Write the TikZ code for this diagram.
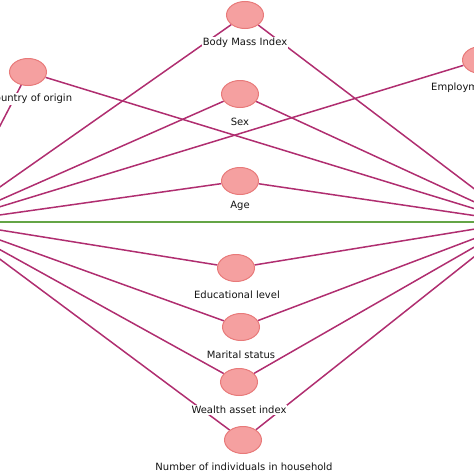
\documentclass[tikz,border=0pt]{standalone}
\usepackage{fontspec}
\setmainfont{DejaVu Sans}
\usetikzlibrary{shapes.geometric,backgrounds}
\definecolor{linkc}{RGB}{176,46,112}
\definecolor{causal}{RGB}{100,165,70}
\definecolor{ellfill}{RGB}{245,160,160}
\definecolor{elldraw}{RGB}{232,122,122}
\definecolor{txt}{RGB}{20,20,20}
\tikzset{
  var/.style={ellipse, fill=ellfill, draw=elldraw, line width=1pt, minimum width=37pt, minimum height=27pt, inner sep=0pt},
  lab/.style={fill=white, text=txt, inner sep=1pt, font=\fontsize{10}{12}\selectfont},
  link/.style={draw=linkc, line width=1.5pt},
  main/.style={draw=causal, line width=1.5pt}
}
\begin{document}
\begin{tikzpicture}[x=1pt,y=-1pt]
\useasboundingbox (0,0) rectangle (474,474);
\clip (0,0) rectangle (474,474);
% exposure and outcome (outside the visible frame)
\node[var] (expo) at (-50,222) {};
\node[var] (outc) at (518,222) {};
% covariates
\node[var] (bmi) at (245,15) {};
\node[lab] (bmil) at (245,43) {Body Mass Index};
\node[var] (sex) at (240,94) {};
\node[lab] (sexl) at (240,122) {Sex};
\node[var] (age) at (240,181) {};
\node[lab] (agel) at (240,206) {Age};
\node[var] (edu) at (236,268) {};
\node[lab] (edul) at (237,295) {Educational level};
\node[var] (mar) at (241,327) {};
\node[lab] (marl) at (241,355) {Marital status};
\node[var] (wea) at (239,382) {};
\node[lab] (weal) at (239,410) {Wealth asset index};
\node[var] (num) at (243,440) {};
\node[lab] (numl) at (244,467) {Number of individuals in household};
\node[var] (cou) at (28,72) {};
\node[lab] (coul) at (30,99) {Country of origin};
\node[var] (emp) at (481,60) {};
\node[lab, anchor=west] (empl) at (430,88) {Employment};
\begin{scope}[on background layer]
\draw[main] (expo) -- (outc);
\foreach \v in {bmi,sex,age,edu,mar,wea,num,cou,emp}{
  \draw[link] (\v) -- (expo);
  \draw[link] (\v) -- (outc);
}
\end{scope}
\end{tikzpicture}
\end{document}
